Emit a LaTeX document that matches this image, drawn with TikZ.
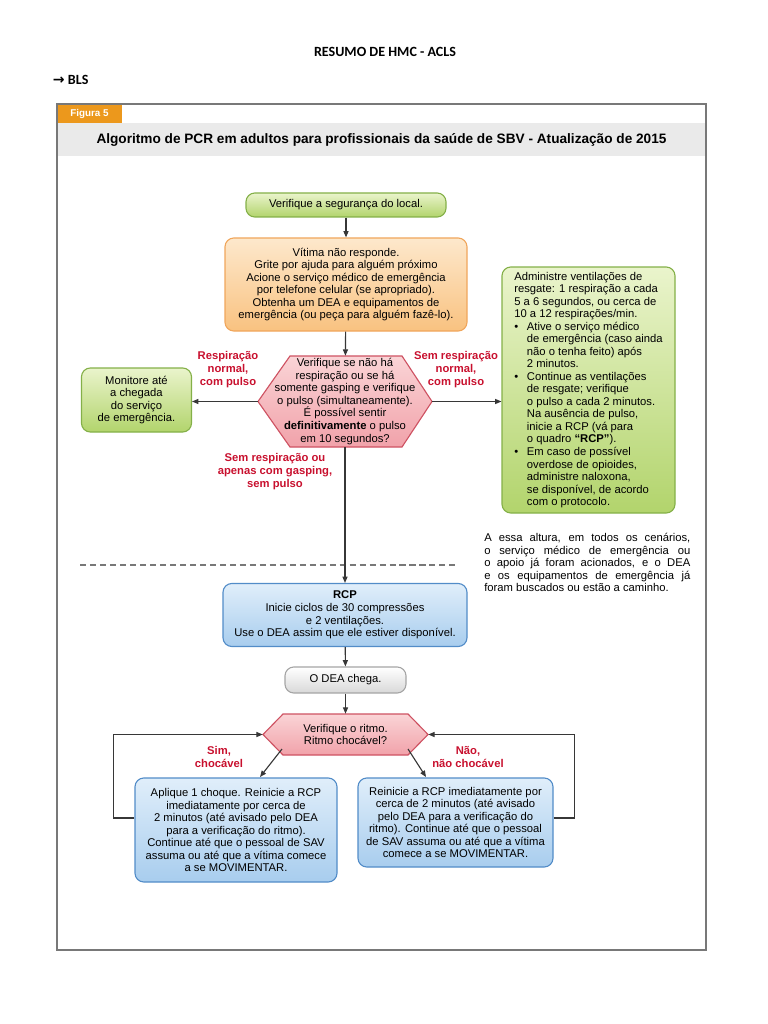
\documentclass[tikz,border=0pt]{standalone}
\usepackage{fontspec}
\setmainfont{Liberation Sans}
\newfontfamily\headfont{Carlito}
\newfontfamily\arrowfont{DejaVu Sans}
\usetikzlibrary{arrows.meta}

\definecolor{greentop}{RGB}{234,244,204}
\definecolor{greenbot}{RGB}{178,212,108}
\definecolor{greenline}{RGB}{132,176,72}
\definecolor{orangetop}{RGB}{253,232,204}
\definecolor{orangebot}{RGB}{249,194,128}
\definecolor{orangeline}{RGB}{240,166,92}
\definecolor{pinktop}{RGB}{250,212,214}
\definecolor{pinkbot}{RGB}{241,162,170}
\definecolor{pinkline}{RGB}{206,82,98}
\definecolor{bluetop}{RGB}{224,238,250}
\definecolor{bluebot}{RGB}{168,205,238}
\definecolor{blueline}{RGB}{82,140,200}
\definecolor{graytop}{RGB}{255,255,255}
\definecolor{graybot}{RGB}{216,216,216}
\definecolor{grayline}{RGB}{165,165,165}
\definecolor{answerred}{RGB}{200,16,46}
\definecolor{tabcolor}{RGB}{236,152,28}
\definecolor{bandgray}{RGB}{234,234,234}
\definecolor{framegray}{RGB}{120,120,120}
\definecolor{wire}{RGB}{55,55,55}

\newcommand{\boxfont}{\fontsize{8}{8.9}\selectfont}
\newcommand{\answerfont}{\fontsize{8}{9.2}\selectfont\bfseries}
\newcommand{\headsize}{\fontsize{10}{12}\selectfont\bfseries}

\begin{document}
\begin{tikzpicture}[x=0.025cm, y=-0.025cm,
    flowbox/.style={draw, line width=0.8pt, rounded corners=0.22cm, inner sep=0pt, align=center, font=\boxfont},
    greenbox/.style={flowbox, draw=greenline, top color=greentop, bottom color=greenbot},
    orangebox/.style={flowbox, draw=orangeline, top color=orangetop, bottom color=orangebot},
    bluebox/.style={flowbox, draw=blueline, top color=bluetop, bottom color=bluebot},
    graybox/.style={flowbox, draw=grayline, top color=graytop, bottom color=graybot},
    hexfill/.style={draw=pinkline, line width=0.8pt, top color=pinktop, bottom color=pinkbot},
    hextext/.style={inner sep=0pt, align=center, font=\boxfont},
    answer/.style={font=\answerfont, text=answerred, align=center},
    flow/.style={draw=wire, line width=0.8pt, -{Triangle[length=4.5pt,width=3.6pt]}},
  ]
  \def\px{0.025cm}
  \useasboundingbox (0,0) rectangle (768,1024);

  % page header
  \node[font=\headfont\headsize] (head) at (385,52) {RESUMO DE HMC - ACLS};
  \node[anchor=west, font=\headfont\headsize] (bls) at (48,80) {{\arrowfont →} BLS};

  % figure frame with tab and title band
  \fill[bandgray] (57,123) rectangle (706,156);
  \fill[tabcolor] (57,104) rectangle (122,123);
  \draw[framegray, line width=1.4pt] (57,104) rectangle (706,950);
  \node[text=white, font=\fontsize{7}{8}\selectfont\bfseries] (tab) at (89.5,113.5) {Figura 5};
  \node[font=\fontsize{9.7}{11}\selectfont\bfseries] (title) at (381.5,140)
    {Algoritmo de PCR em adultos para profissionais da saúde de SBV - Atualização de 2015};

  % first steps
  \node[greenbox, minimum width=200*\px, minimum height=24*\px] (safety) at (346,205)
    {Verifique a segurança do local.};
  \node[orangebox, minimum width=242*\px, minimum height=93*\px] (unresp) at (346,284.5)
    {Vítima não responde.\\ Grite por ajuda para alguém próximo\\ Acione o serviço médico de emergência\\
     por telefone celular (se apropriado).\\ Obtenha um DEA e equipamentos de\\ emergência (ou peça para alguém fazê-lo).};

  % pulse check
  \path[hexfill] (258,401.5) -- (290,356) -- (402,356) -- (432,401.5) -- (402,447) -- (290,447) -- cycle;
  \node[hextext, minimum width=174*\px, minimum height=91*\px] (pulse) at (345,401.5)
    {Verifique se não há\\ respiração ou se há\\ somente gasping e verifique\\ o pulso (simultaneamente).\\
     É possível sentir\\ \textbf{definitivamente} o pulso\\ em 10 segundos?};

  \node[greenbox, minimum width=110*\px, minimum height=64*\px] (monitor) at (136.5,400)
    {Monitore até\\ a chegada\\ do serviço\\ de emergência.};
  \node[greenbox, align=left, minimum width=173*\px, minimum height=246*\px] (rescue) at (588.5,390)
    {Administre ventilações de\\ resgate: 1 respiração a cada\\ 5 a 6 segundos, ou cerca de\\ 10 a 12 respirações/min.\\
     \makebox[9pt][l]{\textbullet}Ative o serviço médico\\ \hspace*{9pt}de emergência (caso ainda\\
     \hspace*{9pt}não o tenha feito) após\\ \hspace*{9pt}2 minutos.\\
     \makebox[9pt][l]{\textbullet}Continue as ventilações\\ \hspace*{9pt}de resgate; verifique\\
     \hspace*{9pt}o pulso a cada 2 minutos.\\ \hspace*{9pt}Na ausência de pulso,\\
     \hspace*{9pt}inicie a RCP (vá para\\ \hspace*{9pt}o quadro \textbf{“RCP”}).\\
     \makebox[9pt][l]{\textbullet}Em caso de possível\\ \hspace*{9pt}overdose de opioides,\\
     \hspace*{9pt}administre naloxona,\\ \hspace*{9pt}se disponível, de acordo\\ \hspace*{9pt}com o protocolo.};

  \node[answer] (breathing) at (228,370) {Respiração\\ normal,\\ com pulso};
  \node[answer] (nobreath) at (456,370) {Sem respiração\\ normal,\\ com pulso};
  \node[answer] (nopulse) at (275,472) {Sem respiração ou\\ apenas com gasping,\\ sem pulso};

  \node[anchor=north west, inner sep=0pt, align=left, font=\boxfont] (note) at (484,533)
    {\makebox[5.15cm][s]{A essa altura, em todos os cenários,}\\
     \makebox[5.15cm][s]{o serviço médico de emergência ou}\\
     \makebox[5.15cm][s]{o apoio já foram acionados, e o DEA}\\
     \makebox[5.15cm][s]{e os equipamentos de emergência já}\\
     foram buscados ou estão a caminho.};

  % separator
  \draw[framegray, line width=1.4pt, dash pattern=on 4.3pt off 2.8pt] (80,565) -- (458,565);

  % CPR and AED
  \node[bluebox, minimum width=244*\px, minimum height=63*\px] (cpr) at (345,615)
    {\textbf{RCP}\\ Inicie ciclos de 30 compressões\\ e 2 ventilações.\\ Use o DEA assim que ele estiver disponível.};
  \node[graybox, minimum width=121*\px, minimum height=26*\px] (aed) at (345.5,680) {O DEA chega.};

  % rhythm check
  \path[hexfill] (263,734.5) -- (283,714) -- (408,714) -- (428,734.5) -- (408,755) -- (283,755) -- cycle;
  \node[hextext, minimum width=165*\px, minimum height=41*\px] (rhythm) at (345.5,734.5)
    {Verifique o ritmo.\\ Ritmo chocável?};

  \node[bluebox, minimum width=202*\px, minimum height=104*\px] (shock) at (236,830)
    {Aplique 1 choque. Reinicie a RCP\\ imediatamente por cerca de\\ 2 minutos (até avisado pelo DEA\\
     para a verificação do ritmo).\\ Continue até que o pessoal de SAV\\ assuma ou até que a vítima comece\\ a se MOVIMENTAR.};
  \node[bluebox, minimum width=195*\px, minimum height=89*\px] (noshock) at (455.5,822.5)
    {Reinicie a RCP imediatamente por\\ cerca de 2 minutos (até avisado\\ pelo DEA para a verificação do\\
     ritmo). Continue até que o pessoal\\ de SAV assuma ou até que a vítima\\ comece a se MOVIMENTAR.};

  \node[answer] (yes) at (219,757) {Sim,\\ chocável};
  \node[answer] (no) at (468,757) {Não,\\ não chocável};

  \coordinate (rhythmL) at (282,749);
  \coordinate (rhythmR) at (408,749);
  \coordinate (shockin) at (260,777);
  \coordinate (noshockin) at (426,777);

  % connectors
  \draw[flow] (safety) -- (unresp);
  \draw[flow] (unresp) -- (pulse);
  \draw[flow] (pulse.west) -- (pulse.west -| monitor.east);
  \draw[flow] (pulse.east) -- (pulse.east -| rescue.west);
  \draw[flow] (pulse) -- (cpr);
  \draw[flow] (cpr) -- (aed);
  \draw[flow] (aed) -- (rhythm);
  \draw[flow] (rhythmL) -- (shockin);
  \draw[flow] (rhythmR) -- (noshockin);
  \draw[flow] ([yshift=12*\px]shock.west) -- ++(-21,0) |- (rhythm.west);
  \draw[flow] ([yshift=4.5*\px]noshock.east) -- ++(21,0) |- (rhythm.east);
\end{tikzpicture}
\end{document}
